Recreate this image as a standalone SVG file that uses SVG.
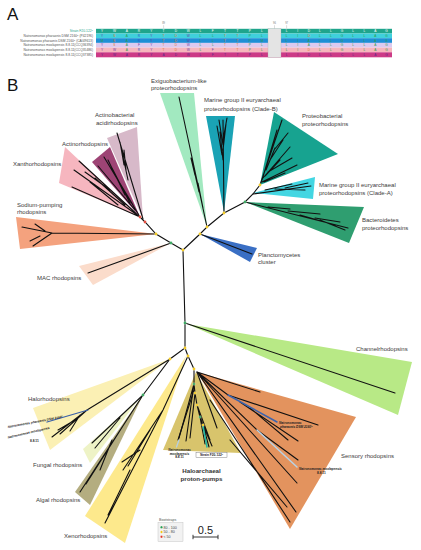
<svg xmlns="http://www.w3.org/2000/svg" width="421" height="550" viewBox="0 0 421 550">
<style>
.t{font-family:"Liberation Sans",Arial,sans-serif;font-size:6px;fill:#3c3c3c}
.pl{font-family:"Liberation Sans",Arial,sans-serif;font-size:17px;fill:#111}
.sm{font-family:"Liberation Sans",Arial,sans-serif;font-size:3.2px;font-weight:bold;font-style:italic;fill:#222}
.smn{font-family:"Liberation Sans",Arial,sans-serif;font-size:3.2px;font-weight:bold;fill:#222}
.al{font-family:"Liberation Sans",Arial,sans-serif;font-size:3.3px;fill:#555;text-anchor:end}
.aa{font-family:"Liberation Sans",Arial,sans-serif;font-size:3.2px;text-anchor:middle}
.mk{font-family:"Liberation Sans",Arial,sans-serif;font-size:2.6px;fill:#777;text-anchor:middle}
.p{fill:#6b3fa0}.o{fill:#e07b20}.g{fill:#2a9d4a}.b{fill:#3050c0}
.br{stroke:#111;stroke-width:1.1;fill:none;stroke-linecap:round}
.tp{stroke:#111;stroke-width:1.1;fill:none;stroke-linecap:round}
.dy{fill:#f2c200;stroke:#fff;stroke-width:0.3}
.dg{fill:#1e9a4a;stroke:#fff;stroke-width:0.3}
.dr{fill:#e0301e;stroke:#fff;stroke-width:0.3}
</style>

<!-- Panel A -->
<g id="panelA">
<text class="pl" x="7" y="20">A</text>
<g id="alignment-bands">
<rect x="96" y="28.8" width="296" height="4.7" fill="#1fa58c"/>
<rect x="96" y="33.5" width="296" height="4.7" fill="#3fd0dc"/>
<rect x="96" y="38.2" width="296" height="4.7" fill="#1e8fd6"/>
<rect x="96" y="42.9" width="296" height="4.7" fill="#dccaf0"/>
<rect x="96" y="47.6" width="296" height="4.7" fill="#f6b6bd"/>
<rect x="96" y="52.3" width="296" height="5" fill="#cc3a86"/>
<rect x="268" y="28.8" width="13" height="28.5" fill="#e4e4e4" stroke="#aaa" stroke-width="0.3"/>
</g>
<g id="markers">
<text class="mk" x="163.6" y="24.3">89</text>
<line x1="163.6" y1="25.2" x2="163.6" y2="28.4" stroke="#888" stroke-width="0.3"/>
<text class="mk" x="274.5" y="24.3">96</text>
<line x1="274.5" y1="25.2" x2="274.5" y2="28.4" stroke="#888" stroke-width="0.3"/>
<text class="mk" x="286.6" y="24.3">97</text>
<line x1="286.6" y1="25.2" x2="286.6" y2="28.4" stroke="#888" stroke-width="0.3"/>
</g>
<g id="row-labels">
<text class="al" x="93" y="32.3" style="fill:#1fa58c">Strain F20-122ᵀ</text>
<text class="al" x="93" y="37">Natronomonas pharaonis DSM 2160ᵀ (P42196)</text>
<text class="al" x="93" y="41.7">Natronomonas pharaonis DSM 2160ᵀ (CAI49613)</text>
<text class="al" x="93" y="46.4">Natronomonas moolapensis 8.8.11(CCQ36394)</text>
<text class="al" x="93" y="51.1">Natronomonas moolapensis 8.8.11(CCQ35486)</text>
<text class="al" x="93" y="55.9">Natronomonas moolapensis 8.8.11(CCQ37385)</text>
</g>
<g id="residues">
<text class="aa" fill="#fff" y="32.3" x="102.1 114.4 126.7 139 151.3 163.6 175.9 188.2 200.5 212.8 225.1 237.4 249.7 262 286.6 297.7 308.8 319.9 331 342.1 353.2 364.3 375.4 386.5">YWARYTDWLFTTPLLIDLLGLLAG</text>
<text class="aa" y="37" x="102.1 114.4 126.7 139 151.3 163.6 175.9 188.2 200.5 212.8 225.1 237.4 249.7 262 286.6 297.7 308.8 319.9 331 342.1 353.2 364.3 375.4 386.5"><tspan class="p">Y</tspan><tspan class="o">S</tspan><tspan class="g">A</tspan><tspan class="b">R</tspan><tspan class="p">Y</tspan><tspan class="o">TD</tspan><tspan class="p">W</tspan><tspan class="g">LL</tspan><tspan class="o">TT</tspan><tspan class="g">PLLI</tspan><tspan class="o">D</tspan><tspan class="g">LLGLLAG</tspan></text>
<text class="aa" y="41.7" x="102.1 114.4 126.7 139 151.3 163.6 175.9 188.2 200.5 212.8 225.1 237.4 249.7 262 286.6 297.7 308.8 319.9 331 342.1 353.2 364.3 375.4 386.5"><tspan class="g">M</tspan><tspan class="o">S</tspan><tspan class="g">A</tspan><tspan class="b">R</tspan><tspan class="p">Y</tspan><tspan class="o">TD</tspan><tspan class="p">W</tspan><tspan class="g">LL</tspan><tspan class="o">TT</tspan><tspan class="g">PMLIALLGLLAG</tspan></text>
<text class="aa" y="46.4" x="102.1 114.4 126.7 139 151.3 163.6 175.9 188.2 200.5 212.8 225.1 237.4 249.7 262 286.6 297.7 308.8 319.9 331 342.1 353.2 364.3 375.4 386.5"><tspan class="p">Y</tspan><tspan class="o">S</tspan><tspan class="g">A</tspan><tspan class="p">FY</tspan><tspan class="o">TD</tspan><tspan class="p">W</tspan><tspan class="g">LL</tspan><tspan class="o">TT</tspan><tspan class="g">PLLIALLGLLAG</tspan></text>
<text class="aa" y="51.1" x="102.1 114.4 126.7 139 151.3 163.6 175.9 188.2 200.5 212.8 225.1 237.4 249.7 262 286.6 297.7 308.8 319.9 331 342.1 353.2 364.3 375.4 386.5"><tspan class="p">YW</tspan><tspan class="g">A</tspan><tspan class="b">R</tspan><tspan class="p">Y</tspan><tspan class="o">TD</tspan><tspan class="p">W</tspan><tspan class="g">L</tspan><tspan class="p">F</tspan><tspan class="o">TT</tspan><tspan class="g">PLLI</tspan><tspan class="o">D</tspan><tspan class="g">LLGLLAG</tspan></text>
<text class="aa" y="55.9" fill="#5a2a8a" x="102.1 114.4 126.7 139 151.3 163.6 175.9 188.2 200.5 212.8 225.1 237.4 249.7 262 286.6 297.7 308.8 319.9 331 342.1 353.2 364.3 375.4 386.5">YWARYADWLFTTPLLIDLLCLLAG</text>
</g>
</g>

<!-- Panel B -->
<text class="pl" x="7" y="91">B</text>

<g id="clade-exiguobacterium">
<polygon points="207,227 160,93 194,93" fill="#a2e9c0"/>
<path class="tp" d="M207,227 L179,97 M203,208 L198,183 M199,192 L194,170 M195,175 L191,158"/>
<text class="t" x="151" y="83">Exiguobacterium-like</text>
<text class="t" x="151" y="90">proteorhodopsins</text>
</g>

<g id="clade-mgII-cladeB">
<polygon points="224,212 206,116 235,116" fill="#1aa3b5"/>
<path class="tp" d="M224,213 L223,120 M223,145 L219,120 M223,140 L227,118 M222,155 L217,126 M223,150 L226,124 M223,160 L220,132"/>
<text class="t" x="204" y="102">Marine group II euryarchaeal</text>
<text class="t" x="204" y="111">proteorhodopsins (Clade-B)</text>
</g>

<g id="clade-proteobacterial">
<polygon points="260,185 274,112 338,154" fill="#17a390"/>
<path class="tp" d="M260,185 L282,120 M262,180 L277,130 M263,178 L290,147 M262,182 L297,165 M264,182 L285,173 M270,160 L283,140 M266,170 L275,148 M268,172 L292,158 M265,176 L280,160 M274,150 L288,133"/>
<text class="t" x="302" y="118">Proteobacterial</text>
<text class="t" x="302" y="126">proteorhodopsins</text>
</g>

<g id="clade-mgII-cladeA">
<polygon points="253,193 315,177 313,199" fill="#43d6e2"/>
<path class="tp" d="M253,194 L311,186 M265,190 L292,184 M275,189 L305,190 M285,188 L308,183"/>
<text class="t" x="319" y="187">Marine group II euryarchaeal</text>
<text class="t" x="319" y="195">proteorhodopsins (Clade-A)</text>
</g>

<g id="clade-bacteroidetes">
<polygon points="245,202 364,207 349,243" fill="#2f9e70"/>
<path class="tp" d="M245,202 L348,228 M268,207 L290,209 M288,211 L320,214 M300,215 L335,225 M315,218 L340,222 M320,220 L345,230"/>
<text class="t" x="362" y="222">Bacteroidetes</text>
<text class="t" x="362" y="230">proteorhodopsins</text>
</g>

<g id="clade-planctomycetes">
<polygon points="200,234 257,248 250,262" fill="#3a6fc4"/>
<path class="tp" d="M200,234 L252,254"/>
<text class="t" x="258" y="257">Planctomycetes</text>
<text class="t" x="258" y="264">cluster</text>
</g>

<g id="clade-xanthorhodopsins">
<polygon points="140,217 65,147 59,183" fill="#f6b6bf"/>
<path class="tp" d="M140,217 L79,161 M140,217 L74,170 M140,217 L72,187 M118,205 L90,182 M110,190 L85,172 M125,205 L95,178"/>
<text class="t" x="13" y="166">Xanthorhodopsins</text>
</g>

<g id="clade-actinorhodopsins">
<polygon points="140,217 92,162 110,147" fill="#9e4475"/>
<path class="tp" d="M140,217 L104,157 M135,210 L98,166 M130,203 L112,168 M125,195 L108,160 M133,205 L115,175"/>
<text class="t" x="62" y="146">Actinorhodopsins</text>
</g>

<g id="clade-acidirhodopsins">
<polygon points="143,219 107,138 137,127" fill="#d7b9c9"/>
<path class="tp" d="M143,219 L117,133 M128,180 L122,152 M124,165 L120,142 M126,170 L124,150"/>
<text class="t" x="95" y="117">Actinobacterial</text>
<text class="t" x="96" y="125">acidirhodopsins</text>
</g>

<g id="clade-sodium-pumping">
<polygon points="156,234 16,217 20,249" fill="#f4a27e"/>
<path class="tp" d="M156,234 L52,233 M52,233 L22,227 M52,233 L33,246 M45,231 L35,224 M40,236 L30,241"/>
<text class="t" x="17" y="207">Sodium-pumping</text>
<text class="t" x="17" y="214">rhodopsins</text>
</g>

<g id="clade-mac">
<polygon points="171,243 79,266 93,285" fill="#fbdccb"/>
<path class="tp" d="M171,243 L88,273"/>
<text class="t" x="37" y="280">MAC rhodopsins</text>
</g>

<g id="clade-channelrhodopsins">
<polygon points="187,324 412,362 398,415" fill="#b8e986"/>
<path class="tp" d="M185,323 L395,393"/>
<text class="t" x="356" y="351">Channelrhodopsins</text>
</g>

<g id="clade-xenorhodopsins">
<polygon points="186,356 85,516 125,543" fill="#fde98c"/>
<path class="tp" d="M188,356 L163,410 L105,523 M163,410 L123,470 M150,430 L128,466 M140,450 L122,462 M130,470 L108,515"/>
<text class="t" x="64" y="538">Xenorhodopsins</text>
</g>

<g id="clade-halorhodopsins">
<polygon points="170,359 33,408 50,450" fill="#fbf0b4"/>
<path class="tp" d="M170,359 L87,410 M87,410 L52,437 M87,410 L60,434 M80,415 L70,431 M75,420 L58,430"/>
<path d="M88,410 L47,422" stroke="#3a5fa8" stroke-width="1.3" stroke-linecap="round"/>
<text class="t" x="28" y="401">Halorhodopsins</text>
<text class="sm" transform="translate(8,428) rotate(-10.6)">Natronomonas pharaonis DSM 2160ᵀ</text>
<text class="sm" transform="translate(8,438.5) rotate(-13)">Natronomonas moolapensis</text>
<text class="smn" x="30" y="442">8.8.11</text>
</g>

<g id="clade-fungal">
<polygon points="140,398 83,449 90,463" fill="#eef3c6"/>
<path class="tp" d="M143,395 L92,443 M120,418 L95,448"/>
<text class="t" x="33" y="467">Fungal rhodopsins</text>
</g>

<g id="clade-algal">
<polygon points="143,395 75,492 90,505" fill="#b4ad80"/>
<path class="tp" d="M143,395 L80,492 M128,418 L86,484 M112,440 L100,470"/>
<text class="t" x="36" y="502">Algal rhodopsins</text>
</g>

<g id="clade-haloarchaeal-proton-pumps">
<polygon points="196,372 163,450 241,453" fill="#d8c46c"/>
<path class="tp" d="M194,369 L194,384 L195,393 L197,405 L200,417 L203,425 M194,384 L179,438 M194,384 L186,441 M195,393 L190,438 M197,372 L217,428 M197,405 L210,440 M203,425 L212,446 M203,425 L209,447 M200,417 L205,444"/>
<path class="tp" d="M194,390 L178,440"/>
<path d="M179,440 L176.5,447" stroke="#b4cfe3" stroke-width="1.3" stroke-linecap="round"/>
<path d="M203,426 L207,447" stroke="#1fb5a5" stroke-width="1.5" stroke-linecap="round"/>
<text class="sm" x="179.5" y="451" text-anchor="middle">Natronomonas</text>
<text class="sm" x="179.5" y="454.7" text-anchor="middle">moolapensis</text>
<text class="smn" x="179.5" y="458.4" text-anchor="middle">8.8.11</text>
<rect x="196" y="452.5" width="31" height="5" fill="#fff" stroke="#666" stroke-width="0.4"/>
<text class="smn" x="211.5" y="456.3" text-anchor="middle">Strain F20-122ᵀ</text>
<text class="t" x="201.5" y="473" text-anchor="middle" style="font-weight:bold;font-size:6.2px;fill:#333">Haloarchaeal</text>
<text class="t" x="201.5" y="481" text-anchor="middle" style="font-weight:bold;font-size:6.2px;fill:#333">proton-pumps</text>
</g>

<g id="clade-sensory">
<polygon points="197,372 356,417 290,529" fill="#e3935e"/>
<path class="tp" d="M197,372 L260,392 M197,372 L228,395 L318,425 M240,402 L298,441 M250,408 L288,440 M197,372 L257,430 L298,460 M197,372 L297,483 M197,372 L296,512 M210,400 L290,522 M230,440 L287,507"/>
<path d="M228,395 L277,422" stroke="#3d64ad" stroke-width="1.5" stroke-linecap="round"/>
<path d="M257,430 L297,467" stroke="#b9d3e6" stroke-width="1.5" stroke-linecap="round"/>
<text class="sm" x="279" y="423.5">Natronomonas</text>
<text class="sm" x="280" y="428">pharaonis DSM 2160ᵀ</text>
<text class="sm" x="299" y="469.5">Natronomonas moolapensis</text>
<text class="smn" x="317" y="474">8.8.11</text>
<text class="t" x="341" y="458">Sensory rhodopsins</text>
</g>

<g id="connectors">
<path class="br" d="M183,250 L171,243 L156,234 L145,222 L140,217 M183,250 L200,234 L207,227 L224,213 L245,202 L253,194 L260,185 M183,250 L185,323 L185,348 L170,359 L143,395 M185,348 L188,356 L194,369"/>
</g>

<g id="bootstraps">
<circle class="dy" cx="156" cy="234" r="1.4"/>
<circle class="dy" cx="183" cy="250" r="1.4"/>
<circle class="dy" cx="200" cy="234" r="1.4"/>
<circle class="dy" cx="207" cy="227" r="1.4"/>
<circle class="dy" cx="224" cy="213" r="1.4"/>
<circle class="dy" cx="260" cy="185" r="1.4"/>
<circle class="dy" cx="185" cy="348" r="1.4"/>
<circle class="dy" cx="170" cy="359" r="1.4"/>
<circle class="dy" cx="188" cy="356" r="1.4"/>
<circle class="dy" cx="194" cy="369" r="1.4"/>
<circle class="dy" cx="195" cy="393" r="1.3"/>
<circle class="dy" cx="197" cy="405" r="1.3"/>
<circle class="dy" cx="203" cy="425" r="1.3"/>
<circle class="dg" cx="171" cy="243" r="1.4"/>
<circle class="dg" cx="245" cy="202" r="1.4"/>
<circle class="dg" cx="185" cy="323" r="1.4"/>
<circle class="dg" cx="143" cy="395" r="1.4"/>
<circle class="dg" cx="194" cy="384" r="1.3"/>
<circle class="dg" cx="200" cy="417" r="1.3"/>
<circle class="dr" cx="140" cy="217" r="1.4"/>
<circle class="dr" cx="145" cy="222" r="1.4"/>
</g>

<g id="legend">
<text x="159" y="521" style="font-family:'Liberation Sans',Arial,sans-serif;font-size:3.6px;fill:#555">Bootstraps</text>
<rect x="158" y="522.5" width="25" height="19" fill="#f2f2f2" stroke="#bbb" stroke-width="0.4"/>
<circle class="dg" cx="161.5" cy="527.2" r="1.2"/>
<circle class="dy" cx="161.5" cy="532" r="1.2"/>
<circle class="dr" cx="161.5" cy="536.8" r="1.2"/>
<text x="163.5" y="528.5" style="font-family:'Liberation Sans',Arial,sans-serif;font-size:3.6px;fill:#444">80 - 100</text>
<text x="163.5" y="533.3" style="font-family:'Liberation Sans',Arial,sans-serif;font-size:3.6px;fill:#444">50 - 80</text>
<text x="163.5" y="538.1" style="font-family:'Liberation Sans',Arial,sans-serif;font-size:3.6px;fill:#444">&lt; 50</text>
</g>

<g id="scale-bar">
<text x="205.5" y="534" text-anchor="middle" style="font-family:'Liberation Sans',Arial,sans-serif;font-size:11px;fill:#222">0.5</text>
<path d="M193,537 L218,537 M193,534.8 L193,539.2 M218,534.8 L218,539.2" stroke="#222" stroke-width="0.9" fill="none"/>
</g>
</svg>
